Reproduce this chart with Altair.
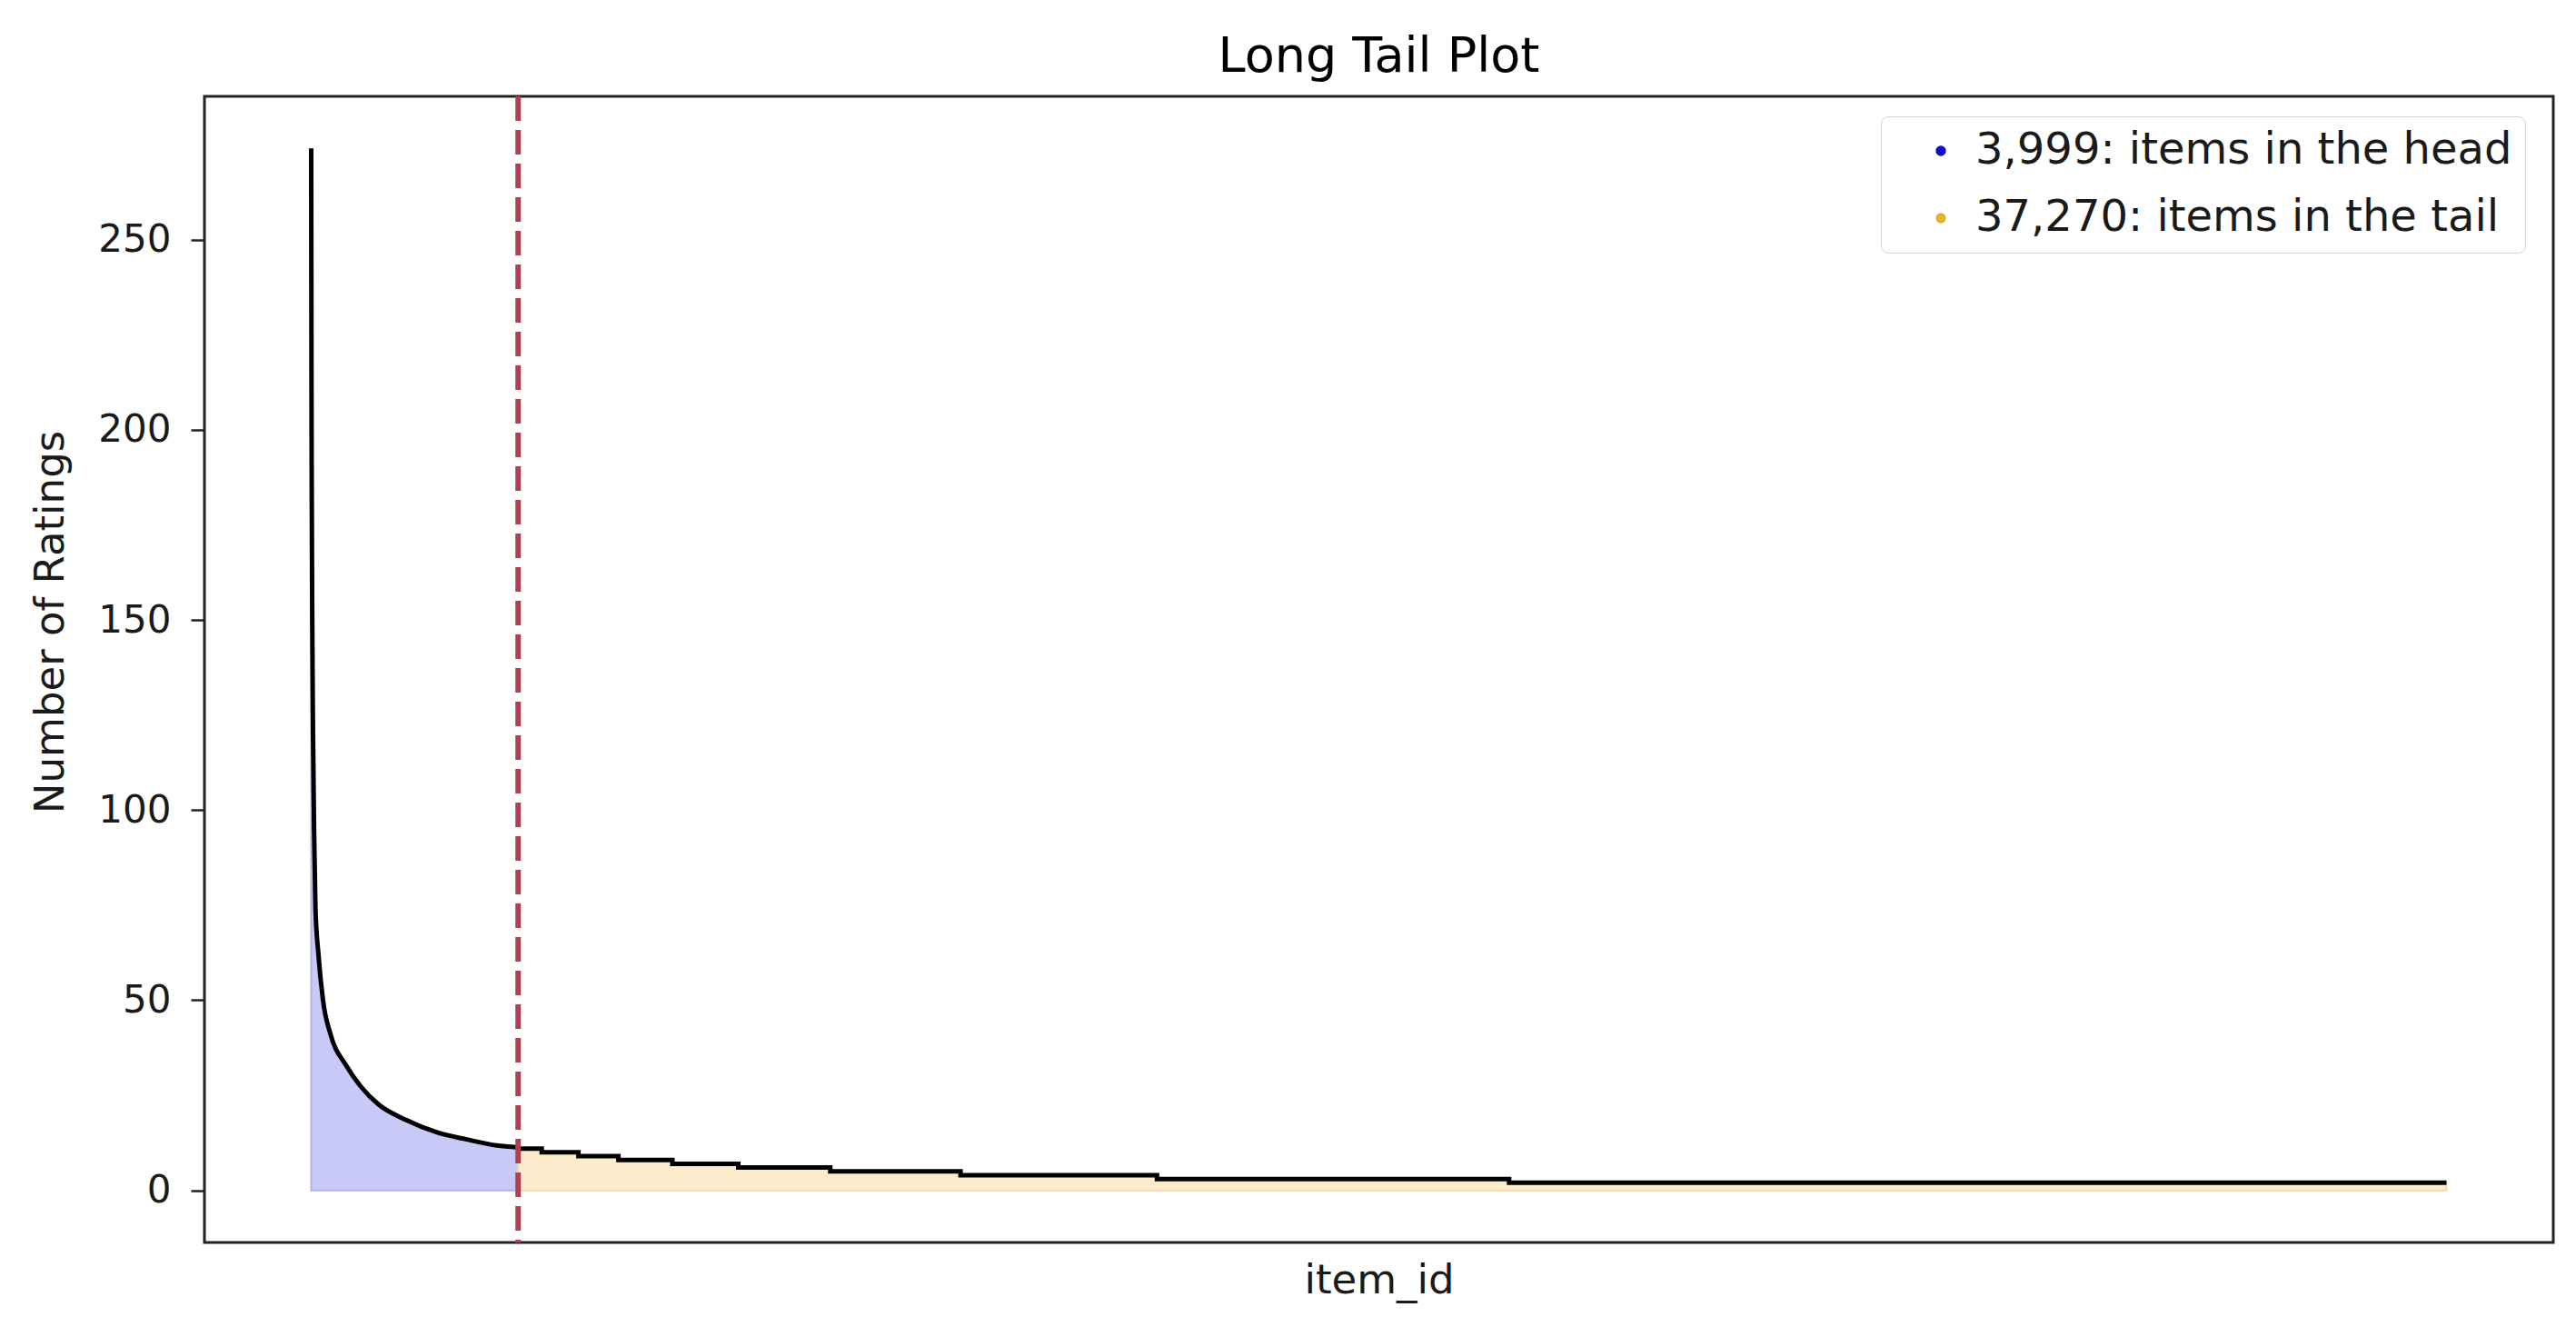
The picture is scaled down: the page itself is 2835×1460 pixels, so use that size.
import altair as alt
import pandas as pd

# ---- data ----
n_items = 41269
head_count = 3999
tail_count = 37270

# head (smooth part), rank -> number of ratings
head_rank = [0, 2, 5, 10, 20, 35, 55, 82, 140, 228, 374, 667, 959, 1310, 1836, 2420, 3005, 3590, 3999]
head_value = [274, 250, 215, 185, 150, 120, 95, 74, 62, 50, 41, 33, 27.3, 22.5, 18.5, 15.3, 13.4, 11.8, 11.3]

# tail (step part): rank where each level starts, and the level
tail_rank = [3999, 4455, 5165, 5937, 6980, 8254, 10032, 12549, 16346, 23151, 41268]
tail_value = [11, 10, 9, 8, 7, 6, 5, 4, 3, 2, 2]

y_ticks = [0, 50, 100, 150, 200, 250]

head_label = f"{head_count:,}: items in the head"
tail_label = f"{tail_count:,}: items in the tail"

head_df = pd.DataFrame({"rank": head_rank, "value": head_value})
tail_df = pd.DataFrame({"rank": tail_rank, "value": tail_value})
split_df = pd.DataFrame({"rank": [head_count]})
legend_df = pd.DataFrame({"label": [head_label, tail_label]})

last = n_items - 1
x_scale = alt.Scale(domain=[-0.05 * last, 1.05 * last], nice=False, zero=False)
y_max = max(head_value)
y_scale = alt.Scale(domain=[-0.05 * y_max, 1.05 * y_max], nice=False, zero=False)

x_enc = alt.X("rank:Q", scale=x_scale,
              axis=alt.Axis(title="item_id", labels=False, ticks=False, domain=False, grid=False,
                            titleFontSize=45, titleFont="DejaVu Sans", titleFontWeight="normal",
                            titleColor="#1a1a1a", titlePadding=19))
y_enc = alt.Y("value:Q", scale=y_scale,
              axis=alt.Axis(title="Number of Ratings", values=y_ticks, grid=False, domain=False,
                            tickSize=15, tickWidth=2.5, tickColor="#222222",
                            labelFontSize=42, labelFont="DejaVu Sans", labelColor="#1a1a1a",
                            labelPadding=22,
                            titleFontSize=45, titleFont="DejaVu Sans", titleFontWeight="normal",
                            titleColor="#1a1a1a", titleAngle=270, titleAlign="center",
                            titleBaseline="alphabetic", titleX=-156, titleY=578))

head_area = alt.Chart(head_df).mark_area(
    color="#c9c9f7", stroke="#b3b3ec", strokeWidth=2, interpolate="monotone"
).encode(x=x_enc, y=y_enc, y2=alt.datum(0))

tail_area = alt.Chart(tail_df).mark_area(
    color="#fdeccb", stroke="#f3ddb0", strokeWidth=2, interpolate="step-after"
).encode(x="rank:Q", y="value:Q", y2=alt.datum(0))

head_line = alt.Chart(head_df).mark_line(color="black", strokeWidth=5, interpolate="monotone").encode(
    x="rank:Q", y="value:Q")

tail_line = alt.Chart(tail_df).mark_line(color="black", strokeWidth=5, interpolate="step-after").encode(
    x="rank:Q", y="value:Q")

split_rule = alt.Chart(split_df).mark_rule(
    color="#b0404f", strokeWidth=6, strokeDash=[27, 10]
).encode(x="rank:Q")

legend_layer = alt.Chart(legend_df).mark_point(filled=True, opacity=0, size=130).encode(
    color=alt.Color("label:N",
                    scale=alt.Scale(domain=[head_label, tail_label], range=["#0a0ac8", "#e6b030"]),
                    legend=alt.Legend(title=None, orient="none", legendX=1845, legendY=22,
                                      symbolType="circle", symbolSize=130, symbolOpacity=1,
                                      symbolStrokeWidth=0, symbolOffset=28,
                                      labelFontSize=48, labelFont="DejaVu Sans", labelColor="#1a1a1a",
                                      labelOffset=14, rowPadding=26, padding=14,
                                      fillColor="white", strokeColor="#d4d4d4", cornerRadius=8,
                                      labelLimit=1000))
)

chart = alt.layer(head_area, tail_area, head_line, tail_line, split_rule, legend_layer).properties(
    width=2585, height=1261,
    title=alt.Title("Long Tail Plot", fontSize=54, font="DejaVu Sans", fontWeight="normal",
                    color="black", anchor="middle", baseline="alphabetic", offset=31, dy=61),
    autosize=alt.AutoSizeParams(type="none"),
    padding={"left": 217, "top": 98, "right": 12, "bottom": 85},
).configure_view(stroke="#222222", strokeWidth=3)

chart.save("out.html", embed_options={"renderer": "svg", "actions": False})
